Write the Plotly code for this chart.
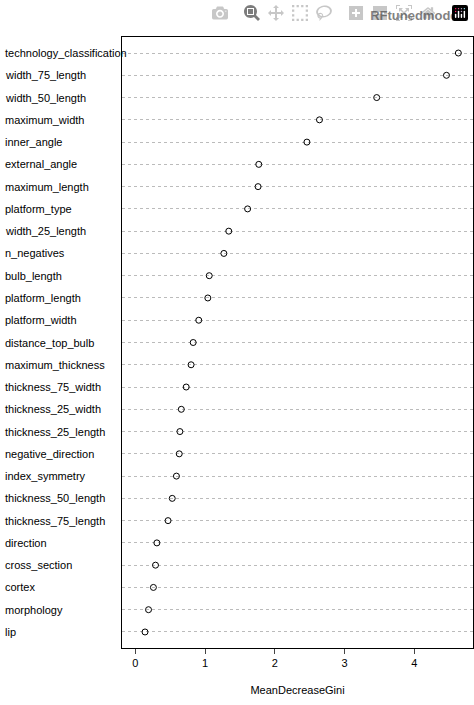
import plotly.graph_objects as go

features = ["technology_classification","width_75_length","width_50_length","maximum_width",
"inner_angle","external_angle","maximum_length","platform_type","width_25_length","n_negatives",
"bulb_length","platform_length","platform_width","distance_top_bulb","maximum_thickness",
"thickness_75_width","thickness_25_width","thickness_25_length","negative_direction",
"index_symmetry","thickness_50_length","thickness_75_length","direction","cross_section",
"cortex","morphology","lip"]
gini = [4.63,4.46,3.46,2.64,2.46,1.77,1.76,1.61,1.34,1.27,1.06,1.04,0.91,0.83,0.80,0.73,
0.66,0.64,0.63,0.59,0.53,0.47,0.31,0.29,0.26,0.19,0.14]
xticks = [0,1,2,3,4]

n = len(features)
ypos = [n - i for i in range(n)]

fig = go.Figure()
fig.add_trace(go.Scatter(x=gini, y=ypos, mode="markers",
    marker=dict(symbol="circle-open", size=6, color="black", line=dict(width=1))))

for f, y in zip(features, ypos):
    fig.add_annotation(x=0, xref="paper", xshift=-119, y=y, yref="y", text=f,
                       showarrow=False, xanchor="left", font=dict(size=11, color="black"))

fig.update_layout(
    width=474, height=705, plot_bgcolor="white", paper_bgcolor="white",
    margin=dict(l=122, r=1, t=37, b=57), showlegend=False,
    font=dict(family="Liberation Sans, Arial", color="black"),
    xaxis=dict(range=[-0.19, 4.84], tickvals=xticks, ticks="outside", ticklen=5,
               showgrid=False, zeroline=False, showline=True, mirror=True,
               linecolor="black", linewidth=1, tickfont=dict(size=11),
               title=dict(text="MeanDecreaseGini", font=dict(size=11), standoff=18)),
    yaxis=dict(range=[0.28, n + 0.72], tickvals=ypos, showticklabels=False,
               showgrid=True, gridcolor="#bbbbbb", griddash="dot", gridwidth=1,
               zeroline=False, showline=True, mirror=True, linecolor="black", linewidth=1),
    title=dict(text="<b>RFtunedmodel</b>", x=0.877, xanchor="center", y=0.985,
               yanchor="top", font=dict(size=13)),
)
fig.write_html("out.html", post_script="document.body.style.margin='0';document.body.style.overflow='hidden';")
